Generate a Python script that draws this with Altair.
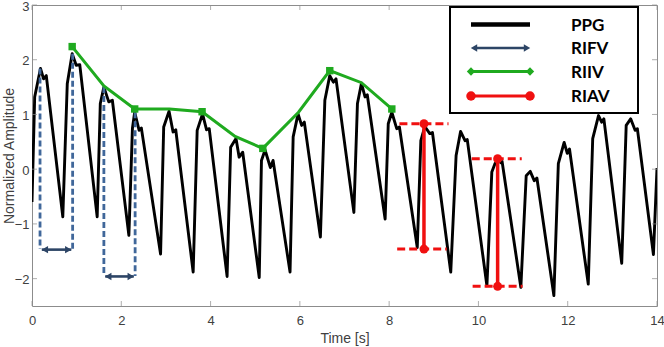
import altair as alt
import pandas as pd

# ---------------- data ----------------
ppg_t = [0.00, 0.06, 0.19, 0.26, 0.32, 0.69,
         0.79, 0.90, 0.99, 1.07, 1.46,
         1.53, 1.61, 1.72, 1.80, 2.17,
         2.25, 2.30, 2.40, 2.45, 2.88,
         2.95, 3.07, 3.16, 3.22, 3.61,
         3.70, 3.82, 3.91, 3.97, 4.37,
         4.45, 4.57, 4.64, 4.72, 5.09,
         5.14, 5.22, 5.34, 5.40, 5.78,
         5.85, 5.96, 6.04, 6.10, 6.46,
         6.56, 6.67, 6.75, 6.81, 7.21,
         7.29, 7.38, 7.46, 7.51, 7.91,
         7.98, 8.06, 8.17, 8.23, 8.63,
         8.71, 8.80, 8.91, 8.97, 9.38,
         9.50, 9.60, 9.70, 9.75, 10.19,
         10.30, 10.37, 10.45, 10.50, 10.53, 10.95,
         11.07, 11.16, 11.25, 11.31, 11.69,
         11.79, 11.92, 11.99, 12.04, 12.46,
         12.56, 12.69, 12.76, 12.81, 13.21,
         13.31, 13.41, 13.51, 13.56, 13.92,
         14.00]
ppg_y = [-0.60, 1.32, 1.84, 1.65, 1.71, -0.87,
         1.56, 2.11, 1.90, 1.91, -0.87,
         1.20, 1.50, 1.23, 1.26, -1.21,
         0.75, 1.04, 0.71, 0.75, -1.55,
         0.77, 1.06, 0.68, 0.72, -1.88,
         0.71, 1.01, 0.72, 0.74, -1.96,
         0.40, 0.56, 0.22, 0.31, -1.98,
         0.16, 0.35, 0.03, 0.16, -1.88,
         0.59, 1.01, 0.80, 0.86, -1.24,
         1.26, 1.71, 1.59, 1.65, -0.79,
         1.20, 1.57, 1.32, 1.36, -0.91,
         0.83, 1.04, 0.74, 0.77, -1.43,
         0.52, 0.78, 0.65, 0.67, -1.88,
         0.25, 0.69, 0.52, 0.54, -2.13,
         -0.05, 0.10, 0.18, 0.12, 0.14, -2.16,
         -0.12, -0.04, -0.21, -0.16, -2.31,
         0.10, 0.49, 0.29, 0.37, -2.10,
         0.56, 0.98, 0.86, 0.92, -1.72,
         0.80, 0.92, 0.71, 0.74, -1.56,
         0.02]

# RIFV: dashed verticals (beat peaks) and arrows between them
rifv_line_t = [0.18, 0.91, 1.61, 2.31]
rifv_line_top = [1.84, 2.11, 1.50, 1.04]
rifv_line_base = [-1.46, -1.46, -1.95, -1.95]
rifv_arrow_from = [0.22, 1.64]
rifv_arrow_to = [0.88, 2.28]
rifv_arrow_y = [-1.47, -1.96]

# RIIV: peak envelope, markers on every other vertex
riiv_t = [0.90, 1.61, 2.30, 3.08, 3.81, 4.55, 5.17, 5.97, 6.67, 7.38, 8.06]
riiv_y = [2.24, 1.52, 1.10, 1.10, 1.05, 0.60, 0.38, 1.04, 1.80, 1.58, 1.10]
riiv_marker = [True, False, True, False, True, False, True, False, True, False, True]

# RIAV: amplitude bars
riav_t = [8.78, 10.43]
riav_top = [0.83, 0.19]
riav_bot = [-1.46, -2.14]
riav_top_from = [8.23, 9.85]
riav_top_to = [9.33, 10.97]
riav_bot_from = [8.18, 9.87]
riav_bot_to = [9.29, 10.99]

x_ticks = [0, 2, 4, 6, 8, 10, 12, 14]
y_ticks = [-2, -1, 0, 1, 2, 3]
legend_labels = ["PPG", "RIFV", "RIIV", "RIAV"]

# ---------------- styling ----------------
W, H = 625, 301
BLACK = "#000000"
BLUE_DASH = "#40679A"
BLUE_ARROW = "#2D4566"
GREEN = "#1FAA1F"
RED = "#F01010"
AXIS_GRAY = "#8C8C8C"
LABEL_GRAY = "#404040"
FONT = "Liberation Sans"

xs = alt.Scale(domain=[0, 14], nice=False, zero=False)
ys = alt.Scale(domain=[-2.5, 3], nice=False, zero=False)

AX = alt.Axis(values=x_ticks, title="Time [s]", ticks=False, domain=False,
              grid=False, labelPadding=8, labelFontSize=13, labelColor=LABEL_GRAY,
              labelFont=FONT, titleFont=FONT, titleFontSize=14,
              titleFontWeight="normal", titleColor=LABEL_GRAY, titlePadding=4,
              labelFlush=False)
AY = alt.Axis(values=y_ticks, title="Normalized Amplitude", ticks=False, domain=False,
              grid=False, labelPadding=3, labelFontSize=13, labelColor=LABEL_GRAY,
              labelFont=FONT, titleFont=FONT, titleFontSize=14,
              titleFontWeight="normal", titleColor=LABEL_GRAY,
              titleX=-23, titleBaseline="middle",
              labelFlush=False, labelOffset=1)


def X(field):
    return alt.X(field, scale=xs, axis=AX, title="Time [s]")


def Y(field):
    return alt.Y(field, scale=ys, axis=AY, title="Normalized Amplitude")


ppg_df = pd.DataFrame({"t": ppg_t, "y": ppg_y})
ppg = alt.Chart(ppg_df).mark_line(color=BLACK, strokeWidth=2.9, clip=True,
                                  strokeJoin="round").encode(
    x=X("t:Q"), y=Y("y:Q"), order="t:Q")

# inward ticks (MATLAB box style)
xt_df = pd.DataFrame({"t": x_ticks})
yt_df = pd.DataFrame({"y": y_ticks})
tick_bottom = alt.Chart(xt_df).mark_tick(color=AXIS_GRAY, thickness=1, size=5).encode(
    x=X("t:Q"), y=alt.value(H - 2.5))
tick_top = alt.Chart(xt_df).mark_tick(color=AXIS_GRAY, thickness=1, size=5).encode(
    x=X("t:Q"), y=alt.value(2.5))
tick_left = alt.Chart(yt_df).mark_tick(color=AXIS_GRAY, thickness=1, size=5).encode(
    y=Y("y:Q"), x=alt.value(2.5))
tick_right = alt.Chart(yt_df).mark_tick(color=AXIS_GRAY, thickness=1, size=5).encode(
    y=Y("y:Q"), x=alt.value(W - 2.5))

# RIFV
rifv_lines_df = pd.DataFrame({"t": rifv_line_t, "top": rifv_line_top, "base": rifv_line_base})
rifv_lines = alt.Chart(rifv_lines_df).mark_rule(color=BLUE_DASH, strokeWidth=2.8,
                                                strokeDash=[6, 3]).encode(
    x=X("t:Q"), y=Y("top:Q"), y2="base:Q")
rifv_arr_df = pd.DataFrame({"a": rifv_arrow_from, "b": rifv_arrow_to, "y": rifv_arrow_y})
rifv_arr = alt.Chart(rifv_arr_df).mark_rule(color=BLUE_ARROW, strokeWidth=2.6).encode(
    x=X("a:Q"), x2="b:Q", y=Y("y:Q"))
rifv_head_l = alt.Chart(rifv_arr_df).mark_point(shape="triangle-left", filled=True, size=55,
                                                color=BLUE_ARROW, opacity=1, xOffset=3).encode(
    x=X("a:Q"), y=Y("y:Q"))
rifv_head_r = alt.Chart(rifv_arr_df).mark_point(shape="triangle-right", filled=True, size=55,
                                                color=BLUE_ARROW, opacity=1, xOffset=-3).encode(
    x=X("b:Q"), y=Y("y:Q"))

# RIIV
riiv_df = pd.DataFrame({"t": riiv_t, "y": riiv_y, "m": riiv_marker})
riiv_line = alt.Chart(riiv_df).mark_line(color=GREEN, strokeWidth=3).encode(
    x=X("t:Q"), y=Y("y:Q"), order="t:Q")
riiv_pts = alt.Chart(riiv_df).transform_filter("datum.m").mark_square(
    color=GREEN, size=55, opacity=1).encode(x=X("t:Q"), y=Y("y:Q"))

# RIAV
riav_df = pd.DataFrame({"t": riav_t, "top": riav_top, "bot": riav_bot,
                        "tf": riav_top_from, "tt": riav_top_to,
                        "bf": riav_bot_from, "bt": riav_bot_to})
riav_top_dash = alt.Chart(riav_df).mark_rule(color=RED, strokeWidth=3, strokeDash=[8, 4]).encode(
    x=X("tf:Q"), x2="tt:Q", y=Y("top:Q"))
riav_bot_dash = alt.Chart(riav_df).mark_rule(color=RED, strokeWidth=3, strokeDash=[8, 4]).encode(
    x=X("bf:Q"), x2="bt:Q", y=Y("bot:Q"))
riav_vert = alt.Chart(riav_df).mark_rule(color=RED, strokeWidth=3.5).encode(
    x=X("t:Q"), y=Y("top:Q"), y2="bot:Q")
riav_dot_top = alt.Chart(riav_df).mark_circle(color=RED, size=80, opacity=1).encode(
    x=X("t:Q"), y=Y("top:Q"))
riav_dot_bot = alt.Chart(riav_df).mark_circle(color=RED, size=80, opacity=1).encode(
    x=X("t:Q"), y=Y("bot:Q"))

# ---------------- legend (drawn in pixel space) ----------------
one = pd.DataFrame({"k": [0]})
LX0, LX1 = 418, 606
LY0, LY1 = 2, 108
SX0, SX1 = 439, 498
TX = 539
rows_y = [19.5, 43, 66.5, 91]

leg_box = alt.Chart(one).mark_rect(fill="white", stroke="black", strokeWidth=2).encode(
    x=alt.value(LX0), x2=alt.value(LX1), y=alt.value(LY0), y2=alt.value(LY1))
leg = [leg_box]
leg.append(alt.Chart(one).mark_rule(color=BLACK, strokeWidth=4.5).encode(
    x=alt.value(SX0), x2=alt.value(SX1), y=alt.value(rows_y[0])))
leg.append(alt.Chart(one).mark_rule(color=BLUE_ARROW, strokeWidth=2.6).encode(
    x=alt.value(SX0 + 3), x2=alt.value(SX1 - 3), y=alt.value(rows_y[1])))
leg.append(alt.Chart(one).mark_point(shape="triangle-left", filled=True, size=55, color=BLUE_ARROW,
                                     opacity=1).encode(x=alt.value(SX0 + 3), y=alt.value(rows_y[1])))
leg.append(alt.Chart(one).mark_point(shape="triangle-right", filled=True, size=55, color=BLUE_ARROW,
                                     opacity=1).encode(x=alt.value(SX1 - 3), y=alt.value(rows_y[1])))
leg.append(alt.Chart(one).mark_rule(color=GREEN, strokeWidth=3).encode(
    x=alt.value(SX0), x2=alt.value(SX1), y=alt.value(rows_y[2])))
for px in (SX0, SX1):
    leg.append(alt.Chart(one).mark_point(shape="diamond", filled=True, size=70, color=GREEN,
                                         opacity=1).encode(x=alt.value(px), y=alt.value(rows_y[2])))
leg.append(alt.Chart(one).mark_rule(color=RED, strokeWidth=3).encode(
    x=alt.value(SX0), x2=alt.value(SX1), y=alt.value(rows_y[3])))
for px in (SX0, SX1):
    leg.append(alt.Chart(one).mark_circle(color=RED, size=90, opacity=1).encode(
        x=alt.value(px), y=alt.value(rows_y[3])))
for lab, ry in zip(legend_labels, rows_y):
    leg.append(alt.Chart(one).mark_text(align="left", baseline="middle", font="Lato",
                                        fontWeight="bold", fontSize=17, color="black").encode(
        x=alt.value(TX), y=alt.value(ry + 1), text=alt.value(lab)))

chart = alt.layer(
    ppg, tick_bottom, tick_top, tick_left, tick_right,
    rifv_lines, rifv_arr, rifv_head_l, rifv_head_r,
    riiv_line, riiv_pts,
    riav_top_dash, riav_bot_dash, riav_vert, riav_dot_top, riav_dot_bot,
    *leg
).properties(
    width=W, height=H,
    padding={"left": 32, "top": 5, "right": 7, "bottom": 41},
    autosize=alt.AutoSizeParams(type="none"),
    background="white",
).configure_view(stroke=AXIS_GRAY, strokeWidth=1)

chart.save("out.html", embed_options={"renderer": "svg", "actions": False})
